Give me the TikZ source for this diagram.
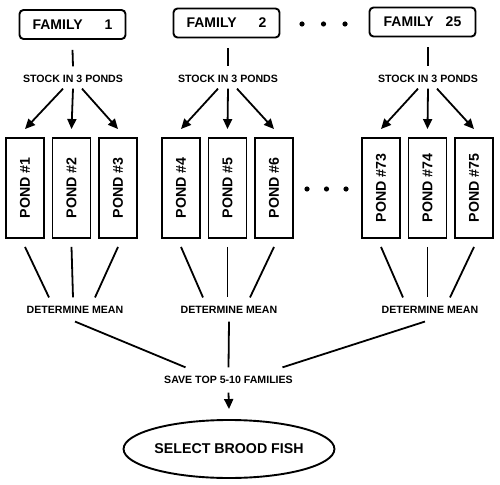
\documentclass[tikz,border=0pt]{standalone}
\usepackage{fontspec}
\setmainfont{Liberation Sans}
\usepackage{tikz}
\usetikzlibrary{shapes}
\usetikzlibrary{arrows.meta}
\tikzset{
  family node/.style={rectangle,draw,rounded corners=4pt,line width=1.9pt,minimum width=106pt,minimum height=29pt,inner xsep=11pt,font=\bfseries\fontsize{14}{14}\selectfont},
  pond node/.style={rectangle,draw,line width=1.9pt,minimum width=38pt,minimum height=100pt,inner sep=0pt,font=\bfseries\fontsize{14.2}{14.2}\selectfont},
  step label/.style={inner sep=2pt,font=\bfseries\fontsize{10.6}{10.6}\selectfont},
  brood node/.style={ellipse,draw,line width=1.9pt,minimum width=206pt,minimum height=58pt,inner sep=0pt,font=\bfseries\fontsize{14.2}{14.2}\selectfont}
}

\begin{document}
\begin{tikzpicture}[->,>={Triangle[length=10pt,width=9pt]},x=1pt,y=-1pt,line width=1.8pt,node distance=46.5pt]
		    \useasboundingbox (0,0) rectangle (500,484);

		    \node[family node] (f1) at (72.5,24.5) {FAMILY\hspace{22pt}1};
		    \node[family node] (f2) at (226.5,23) {FAMILY\hspace{22pt}2};
		    \node[family node] (f25) at (422.5,22) {FAMILY\hspace{12pt}25};
		    \fill (302,24) circle (2.6pt) (323.5,24) circle (2.6pt) (345,24) circle (2.6pt);

		    \node[step label] (s1) at (73,79) {STOCK IN 3 PONDS};
		    \node[step label] (s2) at (228,79) {STOCK IN 3 PONDS};
		    \node[step label] (s3) at (428,79) {STOCK IN 3 PONDS};

		    \node[pond node] (p1) at (25,188) {\rotatebox{90}{POND \#1}};
		    \node[pond node] (p2) [right of=p1] {\rotatebox{90}{POND \#2}};
		    \node[pond node] (p3) [right of=p2] {\rotatebox{90}{POND \#3}};
		    \node[pond node] (p4) at (181,188) {\rotatebox{90}{POND \#4}};
		    \node[pond node] (p5) [right of=p4] {\rotatebox{90}{POND \#5}};
		    \node[pond node] (p6) [right of=p5] {\rotatebox{90}{POND \#6}};
		    \node[pond node] (p73) at (381,188) {\rotatebox{90}{POND \#73}};
		    \node[pond node] (p74) [right of=p73] {\rotatebox{90}{POND \#74}};
		    \node[pond node] (p75) [right of=p74] {\rotatebox{90}{POND \#75}};
		    \fill (307,189) circle (2.6pt) (326.5,189) circle (2.6pt) (346,189) circle (2.6pt);

		    \node[step label] (m1) at (75,310) {DETERMINE MEAN};
		    \node[step label] (m2) at (229,310) {DETERMINE MEAN};
		    \node[step label] (m3) at (430,310) {DETERMINE MEAN};

		    \node[step label] (sv) at (228.5,380) {SAVE TOP 5-10 FAMILIES};
		    \node[brood node] (sel) at (229,449) {SELECT BROOD FISH};

		    \path
		      ([yshift=-10pt]f1.south) edge[-] ([yshift=6pt]s1.north)
		      ([xshift=1.5pt,yshift=-10pt]f2.south) edge[-] ([yshift=6pt]s2.north)
		      ([xshift=5.5pt,yshift=-10pt]f25.south) edge[-] ([yshift=6pt]s3.north)
		      ([xshift=-10pt,yshift=-3pt]s1.south) edge ([yshift=8pt]p1.north)
		      ([yshift=-3pt]s1.south) edge ([yshift=8pt]p2.north)
		      ([xshift=9pt,yshift=-3pt]s1.south) edge ([yshift=8pt]p3.north)
		      ([xshift=-10pt,yshift=-3pt]s2.south) edge ([yshift=8pt]p4.north)
		      ([yshift=-3pt]s2.south) edge ([yshift=8pt]p5.north)
		      ([xshift=9pt,yshift=-3pt]s2.south) edge ([yshift=8pt]p6.north)
		      ([xshift=-10pt,yshift=-3pt]s3.south) edge ([yshift=8pt]p73.north)
		      ([yshift=-3pt]s3.south) edge ([yshift=8pt]p74.north)
		      ([xshift=9pt,yshift=-3pt]s3.south) edge ([yshift=8pt]p75.north)
		      ([yshift=-8pt]p1.south) edge[-] ([xshift=-26pt,yshift=6pt]m1.north)
		      ([yshift=-8pt]p2.south) edge[-] ([xshift=-2pt,yshift=6pt]m1.north)
		      ([yshift=-8pt]p3.south) edge[-] ([xshift=20pt,yshift=6pt]m1.north)
		      ([yshift=-8pt]p4.south) edge[-] ([xshift=-26pt,yshift=6pt]m2.north)
		      ([yshift=-8pt]p5.south) edge[-] ([xshift=-1.5pt,yshift=6pt]m2.north)
		      ([yshift=-8pt]p6.south) edge[-] ([xshift=21pt,yshift=6pt]m2.north)
		      ([yshift=-8pt]p73.south) edge[-] ([xshift=-27pt,yshift=6pt]m3.north)
		      ([yshift=-8pt]p74.south) edge[-] ([xshift=-2.5pt,yshift=6pt]m3.north)
		      ([yshift=-8pt]p75.south) edge[-] ([xshift=20pt,yshift=6pt]m3.north)
		      ([yshift=-5pt]m1.south) edge[-] ([xshift=-43pt,yshift=6pt]sv.north)
		      ([yshift=-5pt]m2.south) edge[-] ([yshift=6pt]sv.north)
		      ([xshift=-5pt,yshift=-5pt]m3.south) edge[-] ([xshift=54pt,yshift=6pt]sv.north)
		      ([yshift=-6pt]sv.south) edge ([yshift=10pt]sel.north);
		  \end{tikzpicture}
\end{document}
